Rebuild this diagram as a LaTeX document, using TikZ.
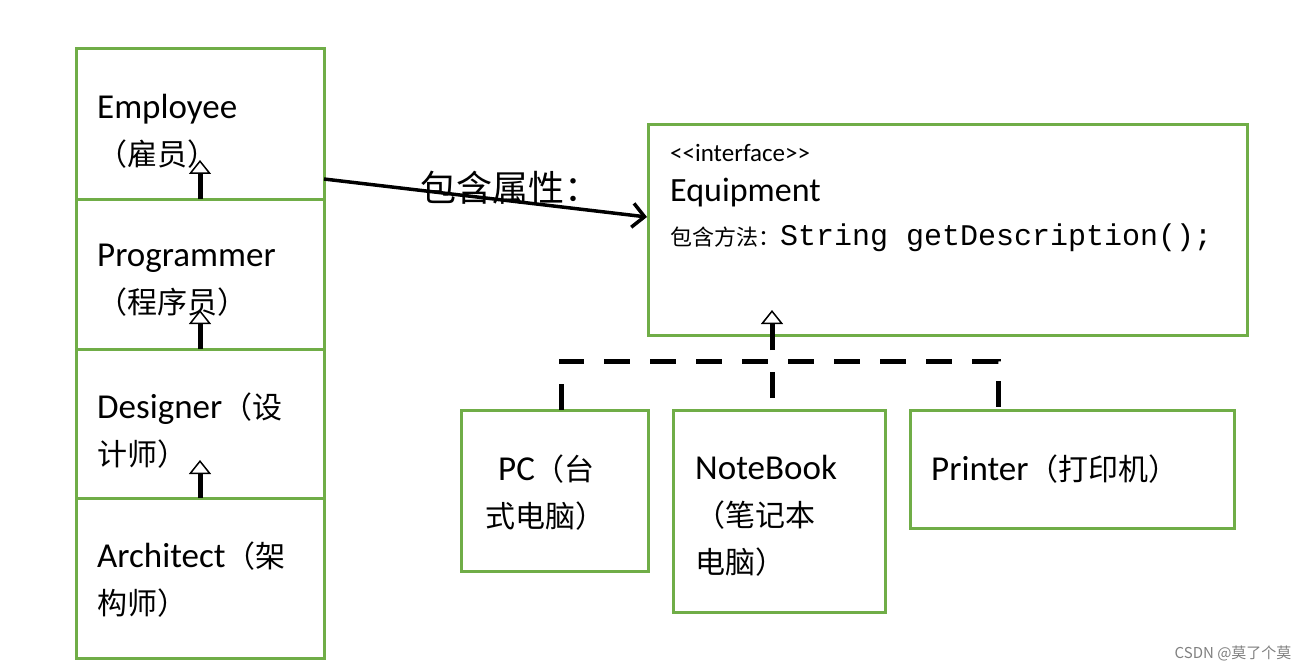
\documentclass[tikz,border=0pt]{standalone}
\usepackage{fontspec}
\setmainfont{Carlito}
\newfontfamily\cjk{Noto Sans CJK SC}
\newfontfamily\mono{Liberation Mono}
\usetikzlibrary{arrows.meta}
\definecolor{gr}{RGB}{112,173,71}
\newcommand{\zh}[1]{{\cjk\fontsize{30}{36}\selectfont #1}}
\begin{document}
\begin{tikzpicture}[x=1pt,y=-1pt,
  box/.style={draw=gr, line width=3pt},
  txt/.style={anchor=north west, inner sep=0pt, align=left, font=\fontsize{35}{47}\selectfont},
  inh/.style={line width=5pt, -{Triangle[open,width=22pt,length=14pt,line width=1.5pt]}},
  dsh/.style={line width=5pt, dash pattern=on 26pt off 20pt}]
\useasboundingbox (0,0) rectangle (1308,671);
% left column
\draw[box] (76,49) rectangle (324,199);
\draw[box] (76,199) rectangle (324,349);
\draw[box] (76,349) rectangle (324,498);
\draw[box] (76,498) rectangle (324,658);
\node[txt] (emp) at (97,94) {Employee\\\zh{（雇员）}};
\node[txt] (pro) at (97,244) {Programmer\\\zh{（程序员）}};
\node[txt] (des) at (97,393) {Designer\zh{（设}\\\zh{计师）}};
\node[txt] (arc) at (97,542) {Architect\zh{（架}\\\zh{构师）}};
\coordinate (b1) at (200,199); \coordinate (t1) at (200,160);
\coordinate (b2) at (200,349); \coordinate (t2) at (200,310);
\coordinate (b3) at (200,498); \coordinate (t3) at (200,460);
\draw[inh] (b1) -- (t1);
\draw[inh] (b2) -- (t2);
\draw[inh] (b3) -- (t3);
% equipment
\draw[box] (648,125) rectangle (1247,335);
\node[txt, font=\fontsize{25}{28}\selectfont] (intf) at (670,144) {{<}{<}interface{>}{>}};
\node[txt, font=\fontsize{34}{40}\selectfont] (eq) at (670,178) {Equipment};
\node[txt, anchor=west] (meth) at (670,238) {{\cjk\fontsize{22}{24}\selectfont 包含方法：}{\mono\fontsize{30}{32}\selectfont String getDescription();}};
\coordinate (as) at (324,179); \coordinate (ae) at (647,217);
\draw[line width=3.5pt, -{Straight Barb[length=12pt,width=24pt,line width=3.5pt]}] (as) -- (ae);
\node[inner sep=0pt, font=\cjk\fontsize{36}{38}\selectfont] (lbl) at (510,188) {包含属性：};
% implementations
\draw[box] (461,410) rectangle (648,571);
\draw[box] (673,410) rectangle (885,612);
\draw[box] (910,410) rectangle (1234,528);
\node[txt] (pc) at (498,455) {PC\zh{（台}\\\hspace*{-13pt}\zh{式电脑）}};
\node[txt] (nb) at (695,455) {NoteBook\\\zh{（笔记本}\\\zh{电脑）}};
\node[txt] (pr) at (931,455) {Printer\zh{（打印机）}};
\coordinate (pcT) at (561,410); \coordinate (prT) at (998,410);
\coordinate (hl) at (561,361); \coordinate (hr) at (998,361);
\coordinate (nbT) at (772,398); \coordinate (mid) at (772,361);
\coordinate (ab) at (772,350); \coordinate (at) at (772,310);
\draw[dsh] (pcT) -- (hl) -- (hr) -- (prT);
\draw[dsh] (nbT) -- (mid);
\draw[inh] (ab) -- (at);
\node[anchor=south east, font=\cjk\fontsize{15}{16}\selectfont, text=gray] (wm) at (1295,665) {CSDN @莫了个莫};
\end{tikzpicture}
\end{document}
